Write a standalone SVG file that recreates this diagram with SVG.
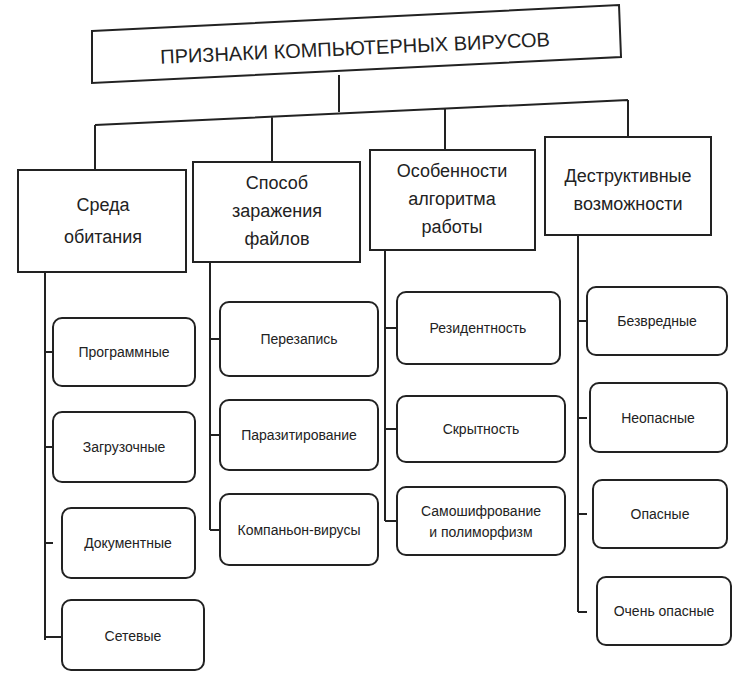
<svg xmlns="http://www.w3.org/2000/svg" width="756" height="696" viewBox="0 0 756 696">
<style>
.b{fill:#fff;stroke:#222;stroke-width:2}
.r{fill:#fff;stroke:#222;stroke-width:2}
.l{fill:none;stroke:#222;stroke-width:2}
text{font-family:"Liberation Sans",Arial,sans-serif;fill:#222;text-anchor:middle}
.h{font-size:20px}
.c{font-size:18px}
.s{font-size:14px}
</style>
<rect width="756" height="696" fill="#fff"/>
<g id="connectors">
<path class="l" d="M339 75V112M95 125L628 100M95 125V170M272 117V162M445 109V150M628 100V137"/>
<path class="l" d="M45 272V640M45 352H53M45 447H53M45 543H53M45 637H62"/>
<path class="l" d="M210 262V530M210 339H220M210 435H220M210 530H220"/>
<path class="l" d="M385 250V521M385 328H397M385 429H397M385 521H397"/>
<path class="l" d="M578 235V612M578 321H587M578 418H587M578 514H587M578 612H587"/>
</g>
<g id="root"><polygon class="b" points="92,31 619,5 621,57 92,83"/><text class="h" x="355" y="55" transform="rotate(-2.6 355 48)">ПРИЗНАКИ КОМПЬЮТЕРНЫХ ВИРУСОВ</text></g>
<g id="c1"><rect class="b" x="18" y="170" width="168" height="102"/><text class="c" x="103" y="211">Среда</text><text class="c" x="103" y="243">обитания</text></g>
<g id="c2"><rect class="b" x="193" y="162" width="167" height="100"/><text class="c" x="277" y="189">Способ</text><text class="c" x="277" y="217">заражения</text><text class="c" x="277" y="245">файлов</text></g>
<g id="c3"><rect class="b" x="370" y="150" width="165" height="100"/><text class="c" x="452" y="177">Особенности</text><text class="c" x="452" y="205">алгоритма</text><text class="c" x="452" y="233">работы</text></g>
<g id="c4"><rect class="b" x="545" y="137" width="166" height="98"/><text class="c" x="628" y="182">Деструктивные</text><text class="c" x="628" y="210">возможности</text></g>
<g id="n11"><rect class="r" x="53" y="318" width="142" height="68" rx="9"/><text class="s" x="124" y="357">Программные</text></g>
<g id="n12"><rect class="r" x="53" y="412" width="142" height="70" rx="9"/><text class="s" x="124" y="452">Загрузочные</text></g>
<g id="n13"><rect class="r" x="62" y="508" width="133" height="70" rx="9"/><text class="s" x="128" y="548">Документные</text></g>
<g id="n14"><rect class="r" x="62" y="600" width="142" height="70" rx="9"/><text class="s" x="133" y="641">Сетевые</text></g>
<g id="n21"><rect class="r" x="220" y="302" width="158" height="74" rx="9"/><text class="s" x="299" y="344">Перезапись</text></g>
<g id="n22"><rect class="r" x="220" y="400" width="158" height="70" rx="9"/><text class="s" x="299" y="440">Паразитирование</text></g>
<g id="n23"><rect class="r" x="220" y="494" width="158" height="71" rx="9"/><text class="s" x="299" y="535">Компаньон-вирусы</text></g>
<g id="n31"><rect class="r" x="397" y="292" width="163" height="72" rx="9"/><text class="s" x="478" y="333">Резидентность</text></g>
<g id="n32"><rect class="r" x="397" y="396" width="168" height="66" rx="9"/><text class="s" x="481" y="434">Скрытность</text></g>
<g id="n33"><rect class="r" x="397" y="487" width="168" height="68" rx="9"/><text class="s" x="481" y="516">Самошифрование</text><text class="s" x="481" y="537">и полиморфизм</text></g>
<g id="n41"><rect class="r" x="587" y="287" width="140" height="68" rx="9"/><text class="s" x="657" y="326">Безвредные</text></g>
<g id="n42"><rect class="r" x="590" y="383" width="137" height="69" rx="9"/><text class="s" x="658" y="423">Неопасные</text></g>
<g id="n43"><rect class="r" x="593" y="480" width="134" height="68" rx="9"/><text class="s" x="660" y="519">Опасные</text></g>
<g id="n44"><rect class="r" x="597" y="577" width="134" height="68" rx="9"/><text class="s" x="664" y="616">Очень опасные</text></g>
</svg>
